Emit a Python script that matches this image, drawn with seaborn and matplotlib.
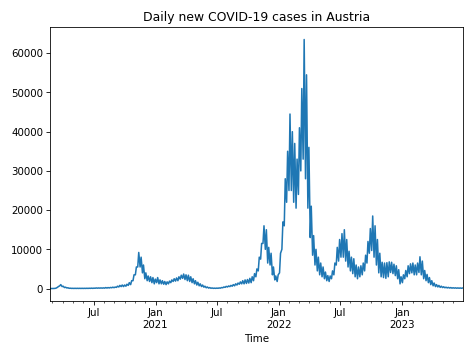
import pandas as pd
import matplotlib.pyplot as plt
import matplotlib.dates as mdates
import seaborn as sns

# ============ Data (weekly low / high of daily new cases) ============
# one entry per week, weeks start on Monday 2020-02-24
week_low = [
    # 2020
    0,
    5, 40, 300, 700, 500,
    250, 150, 60, 40,
    30, 30, 30, 30,
    30, 35, 40, 50, 50,
    80, 90, 100, 100,
    100, 120, 150, 200, 220,
    300, 400, 500, 500,
    600, 800, 1000, 2000,
    3500, 5500, 5500, 4000, 2500,
    2000, 1800, 1500, 1200,
    # 2021
    1500, 1200, 1200, 1100,
    1000, 1200, 1500, 1800,
    1900, 2000, 2400, 2600, 2300,
    2000, 1800, 1500, 1200,
    900, 700, 500, 350, 200,
    120, 70, 50, 50,
    70, 100, 200, 300,
    400, 500, 600, 700, 900,
    1100, 1200, 1200, 1300,
    1400, 1500, 2000, 3000,
    4500, 7500, 11500, 10000, 6500,
    6000, 3500, 2200, 1800,
    # 2022
    4000, 10000, 16000, 22000, 25000,
    25000, 22000, 20500, 24000,
    30000, 33000, 28000, 20500,
    13000, 8500, 6000, 4500,
    3500, 3000, 2500, 2000, 1800,
    2500, 3500, 6000, 7000,
    8000, 8000, 7000, 5500,
    4500, 3800, 3000, 2500, 3000,
    3500, 4500, 6500, 9000,
    9700, 8000, 6000, 4000, 3000,
    2800, 2600, 3000, 4100,
    3800, 3300, 2500, 1200,
    # 2023
    1500, 2500, 3000, 3800, 4000,
    3500, 3500, 4100, 3500,
    2500, 2000, 1500, 1000,
    700, 500, 400, 300,
    250, 200, 150, 120, 100,
    100, 80, 80, 70,
]

week_high = [
    # 2020
    2,
    15, 100, 500, 1000, 600,
    350, 200, 90, 60,
    60, 60, 60, 60,
    60, 70, 80, 100, 100,
    150, 150, 160, 170,
    250, 250, 280, 350, 380,
    600, 800, 900, 900,
    1100, 1500, 2000, 3500,
    5500, 9200, 8000, 6000, 4000,
    3200, 3000, 2800, 2400,
    # 2021
    2800, 2200, 2000, 1800,
    1700, 1900, 2200, 2500,
    2700, 3000, 3400, 3700, 3500,
    3400, 3000, 2500, 2000,
    1600, 1200, 900, 600, 400,
    250, 150, 100, 110,
    150, 250, 400, 550,
    650, 800, 1000, 1200, 1400,
    1700, 2000, 2200, 2300,
    2600, 3000, 3800, 5000,
    8000, 11500, 16000, 15000, 10500,
    9000, 5500, 3200, 3500,
    # 2022
    9000, 17000, 28000, 35000, 44500,
    40000, 37000, 33000, 41000,
    51000, 63500, 54500, 36000,
    21000, 13500, 10000, 8000,
    6500, 5500, 4200, 3300, 3200,
    4500, 6500, 10500, 12500,
    14000, 15000, 12500, 9500,
    8000, 7600, 6000, 5500, 5800,
    6500, 8500, 12000, 15300,
    18500, 16000, 12500, 9000, 6700,
    6500, 6600, 6800, 6700,
    6200, 5800, 4800, 3000,
    # 2023
    3500, 4600, 5800, 6300, 6500,
    6000, 6500, 8100, 7000,
    4600, 3600, 2800, 2000,
    1400, 1000, 800, 600,
    450, 350, 300, 250, 200,
    180, 160, 150, 130,
]

week_start = pd.date_range("2020-02-24", periods=len(week_low), freq="7D")

# low at the start of the week, high mid-week
df = pd.concat([
    pd.DataFrame({"date": week_start, "cases": week_low}),
    pd.DataFrame({"date": week_start + pd.Timedelta(days=3), "cases": week_high}),
]).sort_values("date").reset_index(drop=True)

# ============ Plot ============
fig, ax = plt.subplots(figsize=(6.4, 4.8), dpi=74)
sns.lineplot(data=df, x="date", y="cases", color="#1f77b4", linewidth=1.5,
             estimator=None, ax=ax)

ax.set_xlim(df["date"].min(), df["date"].max())
ax.xaxis.set_major_locator(mdates.MonthLocator(bymonth=[1, 7]))
ax.xaxis.set_minor_locator(mdates.MonthLocator())


def month_label(x, pos):
    d = mdates.num2date(x)
    if d.month == 1:
        return f"Jan\n{d.year}"
    return "Jul"


ax.xaxis.set_major_formatter(plt.FuncFormatter(month_label))
ax.set_title("Daily new COVID-19 cases in Austria")
ax.set_xlabel("Time")
ax.set_ylabel("")
plt.tight_layout()
plt.savefig("out.png")
